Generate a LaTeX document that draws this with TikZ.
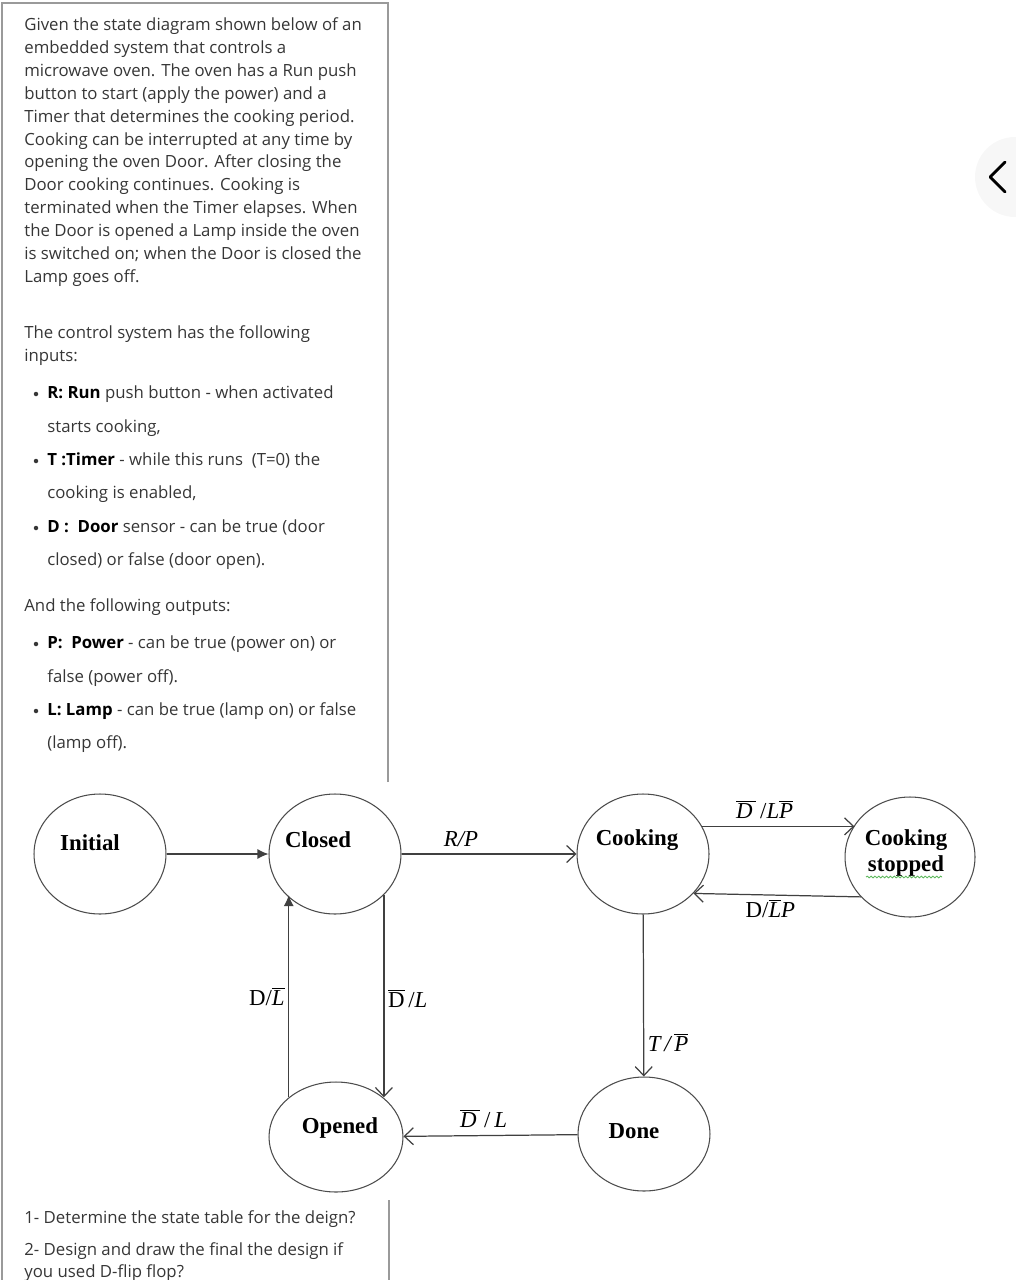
\documentclass[tikz,border=0pt]{standalone}
\usepackage{fontspec}
\setmainfont{Liberation Serif}
\newfontfamily\uifont{Open Sans}
\usetikzlibrary{positioning,arrows.meta,shapes.geometric,decorations.pathmorphing}
\definecolor{txtgray}{HTML}{363636}
\definecolor{framegray}{HTML}{9A9A9A}
\definecolor{spellgreen}{HTML}{5DB85C}
\newcommand{\ovl}[1]{$\overline{\mbox{#1}}$}
\newcommand{\kw}[1]{{\color{black}\bfseries #1}}

\tikzset{
  state/.style={ellipse,draw=black!70,line width=0.6pt,minimum width=2.64cm,minimum height=2.4cm,inner sep=0pt},
  statetxt/.style={font=\fontsize{13}{15}\selectfont\bfseries,align=center,inner sep=0pt},
  trans/.style={draw=black!75,line width=0.7pt,-{Straight Barb[length=1.8mm,width=3.4mm]}},
  transfill/.style={draw=black!75,line width=0.7pt,-{Latex[length=2.2mm,width=2mm]}},
  lbl/.style={font=\fontsize{13}{15}\selectfont,inner sep=2pt},
  body/.style={font=\uifont\fontsize{9.55}{13}\selectfont,text=txtgray,anchor=base west,inner sep=0pt},
}

\begin{document}
\begin{tikzpicture}[x=0.02cm,y=-0.02cm]
  \useasboundingbox (0,0) rectangle (1015,1280);

  % page frame
  \draw[framegray,line width=0.6pt] (388,782) -- (388,3) -- (2,3) -- (2,1280);
  \draw[framegray,line width=0.6pt] (389,1200) -- (389,1280);

  % question text
  \foreach \px/\py/\ptext in {
      24/31/{Given the state diagram shown below of an},
      24/54/{embedded system that controls a},
      24/77/{microwave oven. The oven has a Run push},
      24/100/{button to start (apply the power) and a},
      24/123/{Timer that determines the cooking period.},
      24/146/{Cooking can be interrupted at any time by},
      24/168/{opening the oven Door. After closing the},
      24/191/{Door cooking continues. Cooking is},
      24/214/{terminated when the Timer elapses. When},
      24/237/{the Door is opened a Lamp inside the oven},
      24/260/{is switched on; when the Door is closed the},
      24/283/{Lamp goes off.},
      24/338/{The control system has the following},
      24/361/{inputs:},
      47/398/{\kw{R: Run} push button - when activated},
      47/432/{starts cooking,},
      47/465/{\kw{T :Timer} - while this runs~ (T=0) the},
      47/498/{cooking is enabled,},
      47/532/{\kw{D :~ Door} sensor - can be true (door},
      47/565/{closed) or false (door open).},
      24/611/{And the following outputs:},
      47/648/{\kw{P:~ Power} - can be true (power on) or},
      47/682/{false (power off).},
      47/715/{\kw{L: Lamp} - can be true (lamp on) or false},
      47/748/{(lamp off).},
      24/1223/{1- Determine the state table for the deign?},
      24/1255/{2- Design and draw the final the design if},
      24/1277/{you used D-flip flop?}
  } {
    \node[body] (txt\py) at (\px,\py) {\ptext};
  }
  \foreach \py in {394,461,528,644,711}
    \fill[txtgray] (36,\py) circle (0.045cm);

  % back button
  \fill[black!3] (1015,177) circle (0.8cm);
  \draw[line width=1.6pt,line cap=round,line join=round] (1005,162) -- (990,177) -- (1005,192);

  % states
  \node[state,label={[statetxt,xshift=-0.2cm,yshift=0.22cm]center:Initial}] (initial) at (100,854) {};
  \node[state,label={[statetxt,xshift=-0.34cm,yshift=0.28cm]center:Closed}] (closed) at (335,854) {};
  \node[state,label={[statetxt,xshift=-0.12cm,yshift=0.28cm]center:Cooking}] (cooking) at (643,854) {};
  \node[state,minimum width=2.6cm,label={[statetxt,xshift=-0.08cm,yshift=0.08cm]center:Cooking\\stopped}] (stopped) at (910,857) {};
  \node[state,minimum width=2.68cm,minimum height=2.2cm,label={[statetxt,xshift=0.08cm,yshift=0.18cm]center:Opened}] (opened) at (336,1137) {};
  \node[state,minimum height=2.28cm,label={[statetxt,xshift=-0.2cm,yshift=0.06cm]center:Done}] (done) at (644,1134) {};
  \draw[spellgreen,line width=0.5pt,decorate,decoration={snake,amplitude=0.5pt,segment length=2.2pt}] (866,877) -- (942,877);

  % transitions
  \draw[transfill] (initial) -- (closed);
  \draw[trans] (closed) -- node[lbl,above,pos=0.34,yshift=2pt] (lblrun) {\textit{R/P}} (cooking);
  \draw[trans] (cooking.25) -- node[lbl,above,pos=0.41,yshift=2pt] (lblopen) {\ovl{\itshape D\,}\,/\textit{L}\ovl{\itshape P}} (cooking.25 -| stopped.150);
  \draw[trans] (stopped.-141) -- node[lbl,below,pos=0.54] (lblclose) {D/\ovl{\itshape L}\textit{P}} (cooking.-38);
  \draw[trans] (cooking) -- node[lbl,right,pos=0.79] (lbltimer) {\textit{T\,/\,}\ovl{\itshape P}} (done);
  \draw[trans] (done) -- node[lbl,above,pos=0.54,yshift=2pt] (lbldone) {\ovl{\itshape D\,}\,/\,\textit{L}} (opened);
  \draw[trans] (closed.-40) -- node[lbl,right,pos=0.51] (lbldoor) {\ovl{D}\,/\textit{L}} (closed.-40 |- opened.40);
  \draw[transfill] (opened.140) -- node[lbl,left,pos=0.5] (lblshut) {D/\ovl{\itshape L}} (opened.140 |- closed.-140);
\end{tikzpicture}
\end{document}
